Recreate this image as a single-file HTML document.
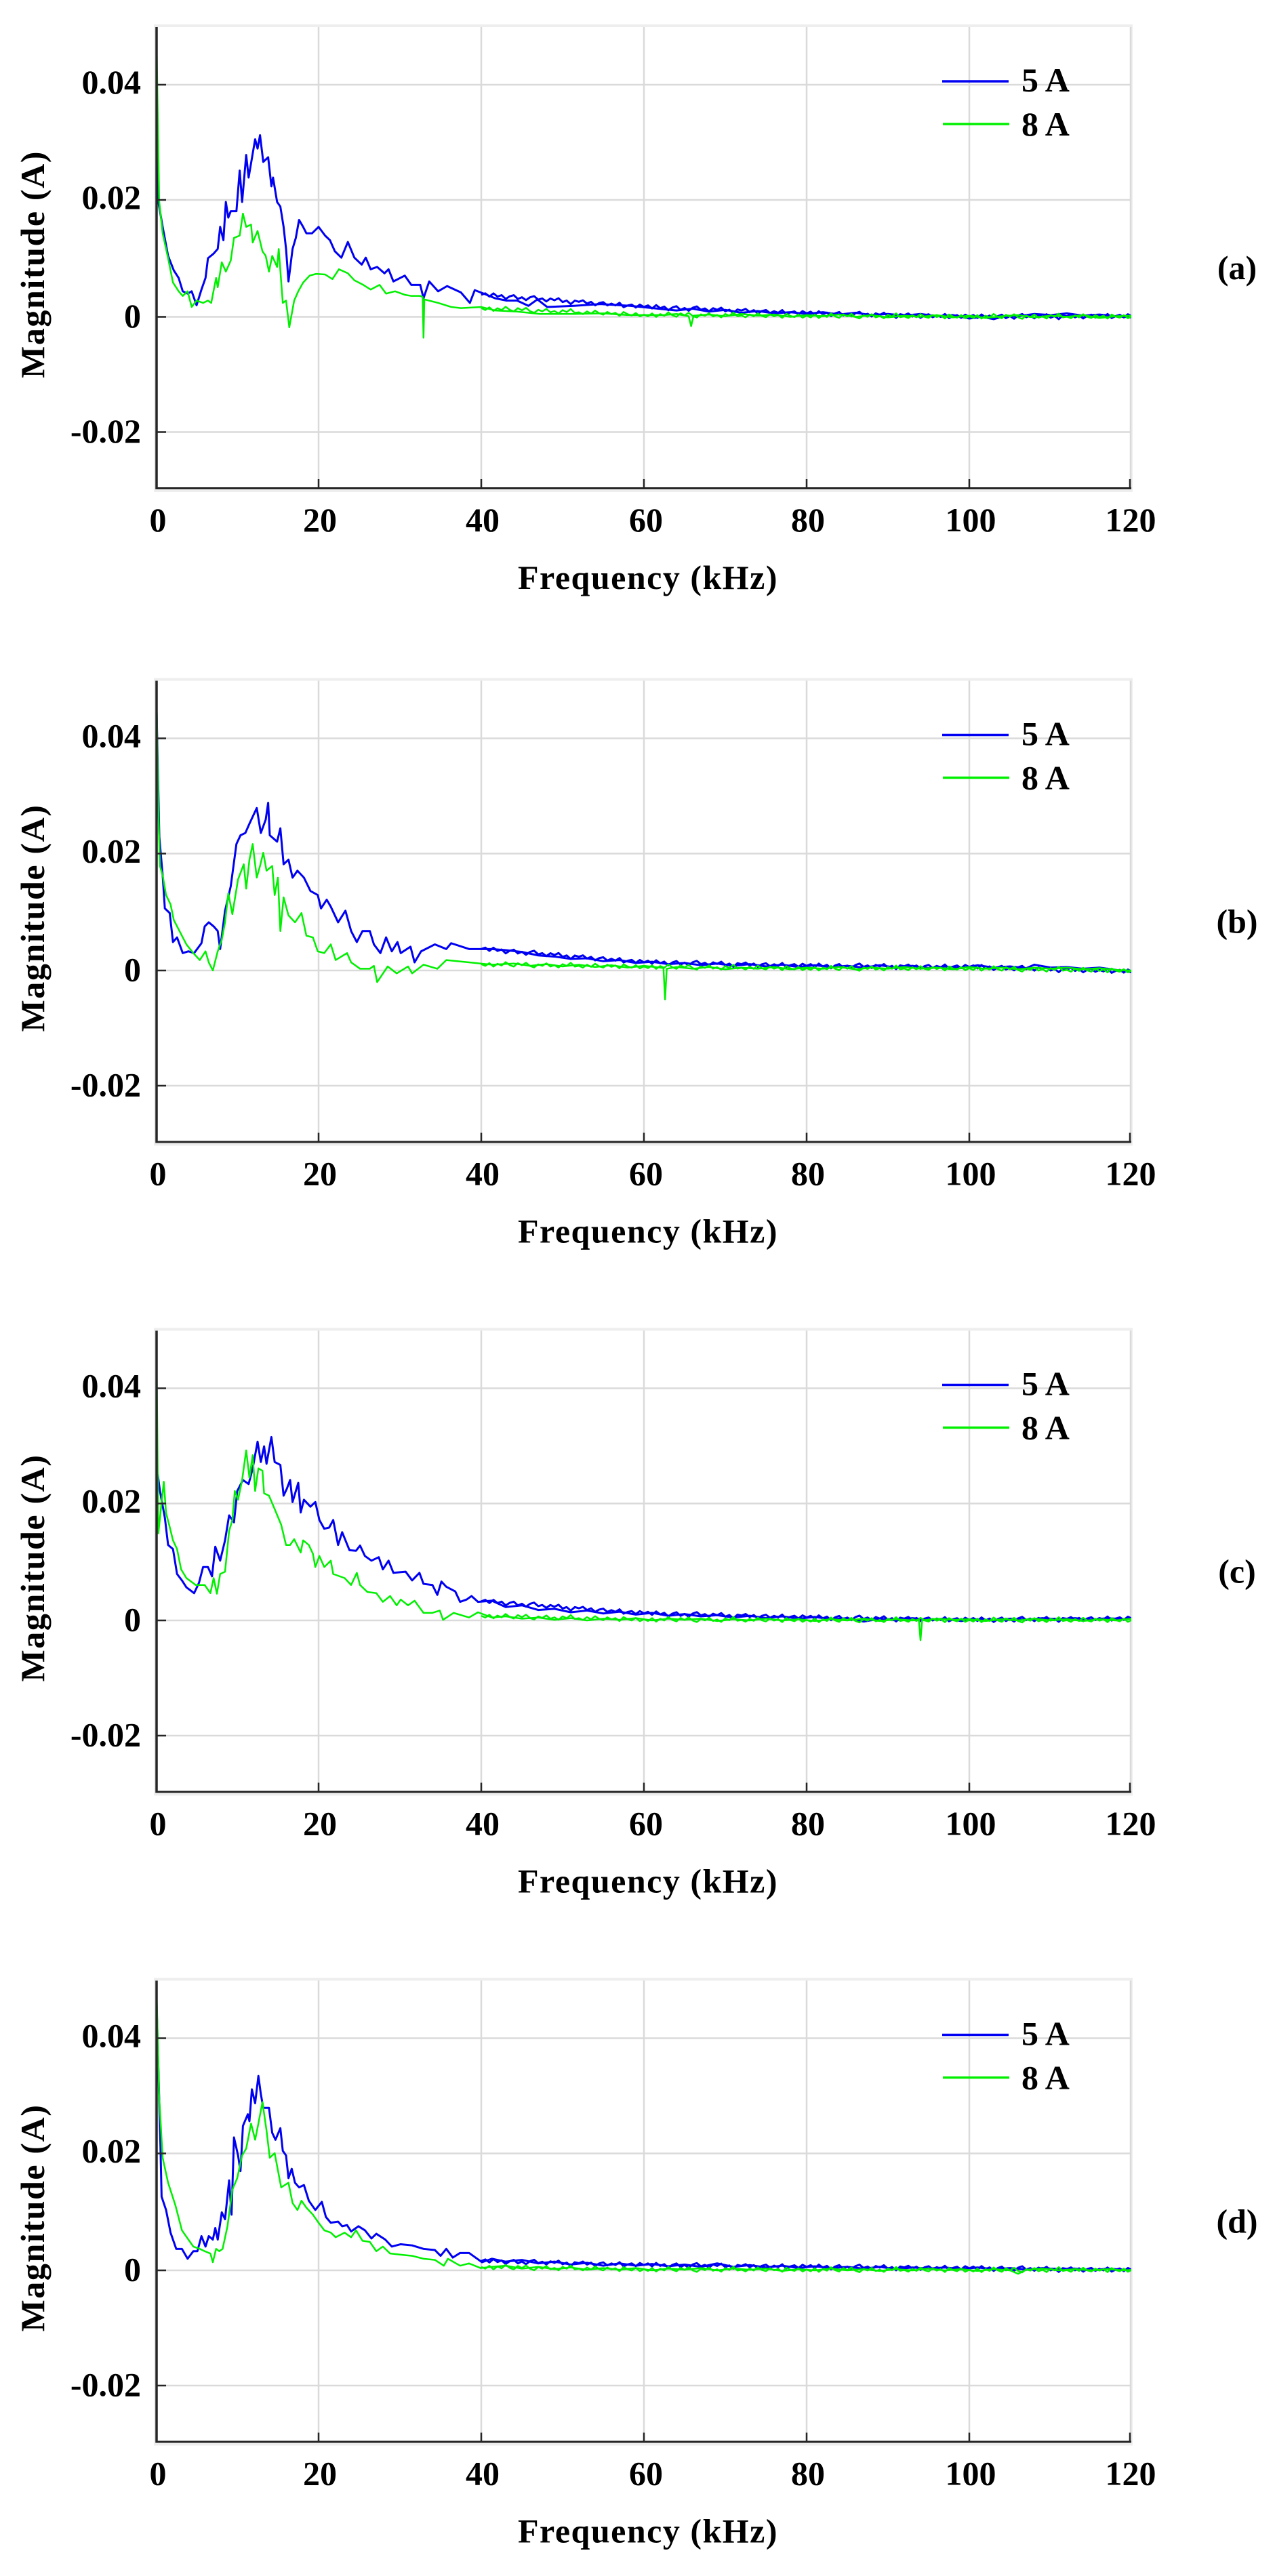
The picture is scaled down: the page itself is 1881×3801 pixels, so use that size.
<!DOCTYPE html>
<html><head><meta charset="utf-8"><style>
html,body{margin:0;padding:0;background:#fff;}
svg{display:block;}
text{font-family:"Liberation Serif","Times New Roman",serif;font-weight:bold;fill:#000;}
.tk{font-size:50px;}
.grid{stroke:#dadada;stroke-width:2.5;fill:none;}
.ax{stroke:#262626;fill:none;}
.b{fill:none;stroke:#0000f2;stroke-width:3;stroke-linejoin:round;}
.g{fill:none;stroke:#00f000;stroke-width:2.5;stroke-linejoin:round;}
</style></head><body>
<svg width="1881" height="3801" viewBox="0 0 1881 3801" xmlns="http://www.w3.org/2000/svg">
<rect width="1881" height="3801" fill="#fff"/>
<defs>
<clipPath id="pc" clipPathUnits="userSpaceOnUse"><rect x="231" y="40" width="1438" height="680"/></clipPath>
<polyline id="nz" vector-effect="non-scaling-stroke" points="0,0 0.5,0.3 1,-0.2 1.5,0.4 2,-0.1 2.5,0.2 3,-0.4 3.5,0.1 4,0.35 4.5,-0.25 5,0.1 5.5,-0.35 6,0.2 6.5,0.45 7,-0.1 7.5,0.15 8,-0.3 8.5,0.25 9,0 9.5,0.4 10,-0.2 10.5,0.1 11,-0.45 11.5,0.2 12,0.05 12.5,0.35 13,-0.15 13.5,0.2 14,-0.35 14.5,0.1 15,0.3 15.5,-0.2 16,0.15 16.5,-0.1 17,0.4 17.5,-0.3 18,0.05 18.5,0.25 19,-0.2 19.5,0.35 20,0"/>
<g id="frame">
<rect x="229" y="38" width="1440" height="686" fill="none" stroke="#eeeeee" stroke-width="4"/>
<g class="grid">
<line x1="470" y1="40" x2="470" y2="721"/><line x1="710" y1="40" x2="710" y2="721"/>
<line x1="950" y1="40" x2="950" y2="721"/><line x1="1190" y1="40" x2="1190" y2="721"/>
<line x1="1430" y1="40" x2="1430" y2="721"/><line x1="1668" y1="40" x2="1668" y2="721"/>
<line x1="231" y1="125" x2="1669" y2="125"/><line x1="231" y1="295" x2="1669" y2="295"/>
<line x1="231" y1="467.5" x2="1669" y2="467.5"/><line x1="231" y1="637.5" x2="1669" y2="637.5"/>
</g>
</g>
<g id="axes">
<g class="ax" stroke-width="2.5">
<line x1="231" y1="125" x2="245" y2="125"/><line x1="231" y1="295" x2="245" y2="295"/>
<line x1="231" y1="467.5" x2="245" y2="467.5"/><line x1="231" y1="637.5" x2="245" y2="637.5"/>
<line x1="470" y1="707" x2="470" y2="721"/><line x1="710" y1="707" x2="710" y2="721"/>
<line x1="950" y1="707" x2="950" y2="721"/><line x1="1190" y1="707" x2="1190" y2="721"/>
<line x1="1430" y1="707" x2="1430" y2="721"/><line x1="1667" y1="707" x2="1667" y2="721"/>
</g>
<line class="ax" x1="231" y1="40" x2="231" y2="722" stroke-width="3.5"/>
<line class="ax" x1="229.5" y1="720.5" x2="1669" y2="720.5" stroke-width="3"/>
<g class="tk" text-anchor="end">
<text x="208" y="138">0.04</text><text x="208" y="308">0.02</text>
<text x="208" y="483">0</text><text x="208" y="653">-0.02</text>
</g>
<g class="tk" text-anchor="middle">
<text x="233" y="784">0</text><text x="472" y="784">20</text><text x="712" y="784">40</text>
<text x="953" y="784">60</text><text x="1192" y="784">80</text><text x="1432" y="784">100</text>
<text x="1668" y="784">120</text>
</g>
<text class="tk" x="764" y="869" letter-spacing="1.5">Frequency (kHz)</text>
<text class="tk" transform="translate(65,390) rotate(-90)" text-anchor="middle" letter-spacing="1.6">Magnitude (A)</text>
<line x1="1390" y1="120" x2="1488" y2="120" stroke="#0000f2" stroke-width="3.5"/>
<line x1="1391" y1="183" x2="1489" y2="183" stroke="#00f000" stroke-width="3.5"/>
<text class="tk" x="1507" y="135">5 A</text>
<text class="tk" x="1507" y="200">8 A</text>
</g>
</defs>

<!-- Panel (a) -->
<g transform="translate(0,0)">
<use href="#frame"/>
<g clip-path="url(#pc)"><g transform="translate(230,467.5) scale(12,-8.5625)">
<polyline class="b" vector-effect="non-scaling-stroke" points="0,50 0.28,20 0.83,15.5 1.5,10.5 2.2,8 2.8,6.7 3.3,4.4 3.9,4 4.4,4.4 5,2 5.6,4.7 6.1,6.7 6.4,10.1 7.1,10.9 7.6,11.7 7.9,15.5 8.3,13.2 8.6,19.8 8.9,17.1 9.2,18.2 9.9,18.2 10.3,25.2 10.6,19.8 11.1,27.9 11.4,24 12.2,30.6 12.5,29 12.8,31.3 13.2,26.7 13.8,27.5 14.2,22.5 14.4,24 14.9,19.8 15.3,19 15.7,15.5 16,11.7 16.3,6.1 16.8,11.7 17.2,13.6 17.6,16.7 18.1,15.5 18.5,14.4 19.2,14.4 20,15.5 20.8,14 21.4,13.2 22,11.3 22.8,10.2 23.6,12.9 24.4,10.2 25.3,9 25.8,10.2 26.4,8.2 27.2,8.6 28.1,7.5 28.6,8.2 29.2,6.1 30.6,7.1 31.4,5.5 32.5,5.5 32.9,3.2 33.6,6.1 34.7,4.4 35.8,5.3 37.5,4.2 38.6,2.4 39.2,4.6 40.3,4 41.7,3.2 43.1,2.8 44.4,2.8 45.8,1.9 46.9,3 48.1,1.7 51.4,1.9 54.7,2.2 58.3,1.9 62.5,1.3 64,1.1 66,1.4 68,0.9 70,1.2 72,0.7 74,1 76,0.6 78,0.8 80,0.5 82,0.8 84,0.4 86,0.7 88,0.3 90,0.5 92,0.2 94,0.5 96,0.1 98,0.3 100,-0.3 101.5,0 103,-0.4 104.5,0.2 106,0.1 108,0.5 110,0.3 112,0.6 114,0.2 116,0.4 118,0.1 120,-0.1"/>
<use class="b" href="#nz" transform="matrix(1,-0.105,0,1,40,3.8)"/>
<use class="b" href="#nz" transform="matrix(1,-0.055,0,1,60,1.7)"/>
<use class="b" href="#nz" transform="matrix(1,-0.03,0,1,80,0.6)"/>
<use class="b" href="#nz" transform="matrix(1,0.005,0,1,100,0)"/>
<polyline class="g" vector-effect="non-scaling-stroke" points="0.05,50 0.4,20 0.83,14.4 1.5,10.1 2.1,5.9 2.8,4.4 3.3,3.6 3.9,4.4 4.4,1.7 5,2.8 5.8,2.4 6.4,2.8 6.8,2.4 7.4,6.7 7.6,5.1 8.1,9.4 8.6,7.8 9.2,9.7 9.6,13.6 10.3,14 10.7,17.8 11.1,15.5 11.7,15.9 11.9,12.8 12.5,14.8 13.1,11.3 13.5,10.5 13.9,7.8 14.3,10.5 14.9,8.6 15.1,11.7 15.6,2.4 16,2.8 16.4,-1.8 17,2.8 17.5,4.4 18.1,5.9 18.9,7.1 19.7,7.4 20.8,7.3 21.7,6.5 22.5,8.2 23.6,7.5 24.4,6.3 25.5,5.5 26.4,4.7 27.5,5.5 28.3,4 29.4,4.4 30.6,3.8 31.4,3.6 32.5,3.6 32.8,3.4 32.9,-3.6 33,3 34.7,2.4 36.3,1.7 37.5,1.5 40,1.7 41.7,1.1 44.4,0.9 47.2,0.5 51.4,0.5 55,0.6 58,0.3 62.5,0.3 64,0.5 65.5,0.1 65.8,-1.6 66.1,0.2 68,0.4 70,0.1 72,0.5 74,0.2 76,0.4 78,0 80,0.3 82,0.1 84,0.4 86,0 88,0.3 90,-0.1 92,0.2 94,0 96,0.3 98,-0.1 100,0.2 102,-0.2 104,0.1 106,0.3 108,-0.1 110,0.2 112,0 114,0.3 116,-0.2 118,0.1 120,0.2"/>
<use class="g" href="#nz" transform="matrix(1,-0.055,0,-1,40,1.5)"/>
<use class="g" href="#nz" transform="matrix(1,-0.01,0,-1,60,0.4)"/>
<use class="g" href="#nz" transform="matrix(1,-0.005,0,-1,80,0.2)"/>
<use class="g" href="#nz" transform="matrix(1,0,0,-1,100,0.1)"/>
</g></g>
<use href="#axes"/>
<text class="tk" x="1825" y="412" text-anchor="middle">(a)</text>
</g>

<!-- Panel (b) -->
<g transform="translate(0,964.5)">
<use href="#frame"/>
<g clip-path="url(#pc)"><g transform="translate(230,467.5) scale(12,-8.5625)">
<polyline class="b" vector-effect="non-scaling-stroke" points="0,50 0.42,23 0.83,16.4 1.1,10.7 1.7,9.9 2.1,4.9 2.6,5.7 3.3,3 4,3.3 4.7,3 5.6,4.7 6,7.6 6.5,8.3 7.1,7.6 7.6,6.8 7.9,3.7 8.5,10.3 9.2,14.5 9.9,21.8 10.4,23.3 11,23.7 11.5,25.3 12.4,28 12.9,23.7 13.5,26 13.8,28.9 14,23.3 14.9,22.2 15.3,24.5 15.7,18.3 16.3,19.1 16.8,16 17.4,17.2 18.2,16 19,13.7 19.9,13 20.3,10.7 21,12.2 21.5,11 22.4,8.3 23.3,10.3 24,6.8 24.7,4.9 25.4,6.8 26.3,6.8 26.8,4.5 27.6,3 28.3,5.7 29,3.3 29.7,4.9 30.1,3 31.3,4.1 31.8,1.4 32.6,3.3 34.3,4.5 35.7,3.7 36.3,4.7 38.5,3.7 41.3,3.7 43,3.5 45,3.2 47,2.6 49,2.4 51,2 53,2.1 55,1.6 57,1.8 59,1.3 61,1.5 63,1.1 65,1.3 67,0.9 69,1.2 71,0.8 73,1.1 75,0.7 77,1 79,0.6 81,0.9 83,0.6 85,0.8 87,0.5 89,0.9 91,0.5 93,0.8 95,0.4 97,0.7 99,0.4 101,0.9 103,0.5 105,0.7 107,0.4 108,1 110,0.5 112,0.6 114,0.3 116,0.5 118,0.1 120,-0.3"/>
<use class="b" href="#nz" transform="matrix(1,-0.115,0,1,40,3.7)"/>
<use class="b" href="#nz" transform="matrix(1,-0.03,0,1,60,1.4)"/>
<use class="b" href="#nz" transform="matrix(1,-0.01,0,1,80,0.8)"/>
<use class="b" href="#nz" transform="matrix(1,-0.04,0,1,100,0.6)"/>
<polyline class="g" vector-effect="non-scaling-stroke" points="0.05,50 0.28,28.7 0.5,18 0.83,16.4 1.25,13 1.8,11.4 2.2,8.7 2.9,6.8 3.75,4.5 4.6,3 5.4,1.8 6.1,3.3 6.5,1.4 7,0 7.6,3.3 8.1,5.3 8.5,8.3 8.9,13.3 9.4,9.7 10.1,15.7 10.8,18.3 11.1,14.1 11.5,19.1 11.9,21.8 12.4,16 12.8,18 13.2,20.3 13.6,17.2 14.3,18 14.6,13 15,16 15.3,6.8 15.7,12.6 16.3,9.5 17.1,8.3 17.9,9.9 18.5,6 19.3,5.7 19.9,3.3 20.7,3 21.5,4.5 22.1,1.8 23.5,3 24,1.4 25.1,0.3 26.3,0.3 26.8,0.8 27.2,-2 28.5,0.7 29.6,-0.5 31,0.7 31.5,-0.5 32.9,1 34.6,0.3 35.7,1.8 38.5,1.4 41.3,1 44,1.2 46,0.8 48,1.1 50,0.7 52,1 54,0.6 56,0.9 58,0.5 60,0.8 62,0.5 62.4,0.4 62.6,-5 62.8,0.3 64,0.6 66,0.3 68,0.6 70,0.2 72,0.5 74,0.3 76,0.6 78,0.2 80,0.5 82,0.3 84,0.6 86,0.2 88,0.5 90,0.3 92,0.6 94,0.3 96,0.5 98,0.2 100,0.6 102,0.3 104,0.5 106,0.2 108,0.5 110,0.3 112,0.5 114,0.2 116,0.4 118,0.1 120,0"/>
<use class="g" href="#nz" transform="matrix(1,-0.02,0,-1,40,1.1)"/>
<use class="g" href="#nz" transform="matrix(1,-0.015,0,-1,60,0.7)"/>
<use class="g" href="#nz" transform="matrix(1,0,0,-1,80,0.4)"/>
<use class="g" href="#nz" transform="matrix(1,-0.02,0,-1,100,0.4)"/>
</g></g>
<use href="#axes"/>
<text class="tk" x="1825" y="412" text-anchor="middle">(b)</text>
</g>

<!-- Panel (c) -->
<g transform="translate(0,1923.5)">
<use href="#frame"/>
<g clip-path="url(#pc)"><g transform="translate(230,467.5) scale(12,-8.5625)">
<polyline class="b" vector-effect="non-scaling-stroke" points="0,50 0.14,26 0.5,22.3 1.1,17.7 1.5,13 2.1,12.3 2.6,8 3.2,6.9 3.75,5.7 4.7,4.7 5.3,6.5 5.8,9.2 6.4,9.2 6.9,7.6 7.3,12.7 7.9,10.3 8.5,13.8 9,18.1 9.6,16.9 10,22.3 10.7,24.2 11.4,23.5 11.9,26.2 12.5,30.8 12.9,27.3 13.3,30 13.6,27 14.2,31.6 14.6,27.3 15.3,26.8 15.7,21.5 16.1,22.7 16.5,24.2 16.8,20.4 17.5,23.7 17.8,18.6 18.2,20.8 19,19.6 19.6,20.4 20.1,17.3 20.7,15.8 21.3,16 21.8,17.3 22.4,13 22.9,15.2 23.8,12.1 24.6,12 25.1,12.9 25.7,11.1 26.5,10.3 27.4,10.9 27.9,8.8 28.6,10.3 29.2,8.2 30.7,8.4 31.5,6.9 32.4,8.2 32.9,6.3 34,6.1 34.6,4.4 35.1,6.7 35.7,5.8 36.8,5 37.4,3.2 38.2,3.6 38.8,4.2 39.6,3.2 41.3,3.4 43,2.3 45,2.6 47,1.8 49,2 51,1.4 53,1.7 55,1.2 57,1.5 59,1 61,1.3 63,0.8 65,1.1 67,0.7 69,0.9 71,0.5 73,0.8 75,0.4 77,0.7 79,0.3 81,0.6 83,0.2 85,0.4 87,-0.2 89,0.3 91,0 93,0.4 95,0.1 97,0.3 99,-0.1 101,0.2 103,0 105,0.3 107,0.1 109,0.4 111,0.2 113,0.4 115,0.1 117,0.4 119,0.2 120,0.4"/>
<use class="b" href="#nz" transform="matrix(1,-0.105,0,1,40,3.3)"/>
<use class="b" href="#nz" transform="matrix(1,-0.035,0,1,60,1.2)"/>
<use class="b" href="#nz" transform="matrix(1,-0.02,0,1,80,0.5)"/>
<use class="b" href="#nz" transform="matrix(1,0.01,0,1,100,0.1)"/>
<polyline class="g" vector-effect="non-scaling-stroke" points="0.05,50 0.3,15 0.97,23.9 1.25,18.5 1.7,16.1 2.1,13.8 2.6,12.3 3.1,8.8 3.75,7.3 4.9,6.1 6,6.1 6.7,4.7 7.1,7.3 7.5,4.6 7.9,8 8.5,8.4 9,15.4 9.4,17.3 9.7,22.3 10.1,20.8 10.6,24.2 11.1,29.3 11.5,24.6 11.9,28.5 12.2,22.3 12.6,26.2 13.1,25.8 13.3,21.9 13.9,21.5 14.6,19.2 15.4,16.5 16,13 16.5,13 17,14 17.8,11.7 18.1,13.8 18.8,13 19.3,11.5 19.6,9.2 20.1,11.1 20.7,9.2 21.5,10.3 21.8,8 23.2,7.3 24,6.1 24.7,8.2 25.1,6.1 26,4.9 27.1,4.7 27.9,3.2 28.8,4.2 29.6,2.6 30.1,3.6 31,2.6 31.8,3.4 32.9,1.3 34,1.3 34.9,1.7 35.3,0.1 36.6,1.3 38.5,0.5 39.6,1.4 41.3,0.5 43,0.7 45,0.3 47,0.5 49,0.1 51,0.4 53,0 55,0.3 57,0.1 59,0.4 61,0 63,0.3 65,0.1 67,0.3 69,-0.1 71,0.2 73,0 75,0.3 77,0 79,0.2 81,-0.1 83,0.2 85,0 87,0.3 89,-0.1 91,0.2 93,0 93.8,0.1 94,-3.4 94.2,0 96,0.3 98,0.1 100,0.2 102,-0.1 104,0.2 106,0 108,0.3 110,0 112,0.2 114,-0.1 116,0.2 118,0 120,0.3"/>
<use class="g" href="#nz" transform="matrix(1,-0.03,0,-1,40,0.8)"/>
<use class="g" href="#nz" transform="matrix(1,-0.005,0,-1,60,0.2)"/>
<use class="g" href="#nz" transform="matrix(1,0,0,-1,80,0.1)"/>
<use class="g" href="#nz" transform="matrix(1,0,0,-1,100,0.1)"/>
</g></g>
<use href="#axes"/>
<text class="tk" x="1825" y="412" text-anchor="middle">(c)</text>
</g>

<!-- Panel (d) -->
<g transform="translate(0,2882.5)">
<use href="#frame"/>
<g clip-path="url(#pc)"><g transform="translate(230,467.5) scale(12,-8.5625)">
<polyline class="b" vector-effect="non-scaling-stroke" points="0,50 0.3,35 0.56,21.4 0.7,12.7 1.25,10.4 1.8,6.5 2.5,3.7 3.2,3.7 3.9,2 4.6,3.3 5.1,3.3 5.6,5.9 6.1,4.1 6.5,5.9 7,5.3 7.3,7.3 7.6,5.3 8.1,10 8.5,8.8 9,15.5 9.3,9.6 9.6,22.9 10.1,19.8 10.4,17.1 10.7,24.9 11.3,26.9 11.5,25.7 11.8,31.2 12.2,28.8 12.6,33.5 12.9,30.4 13.2,28 13.9,28 14.3,23.7 14.7,22.5 15.3,24.5 15.6,20.6 16,19.8 16.3,15.9 16.7,17.5 17.1,15.1 17.6,14.3 18.2,14.7 18.8,12 19.6,10.4 20.4,11.8 20.9,9.2 21.5,8.2 22.4,8.4 22.9,7.6 23.5,7.8 24,6.7 24.9,7.6 25.7,6.9 26.5,5.5 27.1,6.3 28.2,5.3 29,4.1 30.1,4.5 31.5,4.3 32.9,3.7 34.3,3.5 35,2.5 35.7,3.7 36.5,2.2 37.4,3 38.5,3 39.3,2.2 40.1,1.4 41.3,2 43,1.5 45,1.8 47,1.2 49,1.5 51,1 53,1.3 55,0.8 57,1.2 59,0.8 61,1.1 63,0.7 65,1 67,0.6 69,1.2 71,0.6 73,0.9 75,0.5 77,0.8 79,0.4 81,0.7 83,0.4 85,0.6 87,0.3 89,0.6 91,0.2 93,0.5 95,0.3 97,0.5 99,0.2 101,0.5 103,0.2 105,0.4 107,0.1 109,0.4 111,0.2 113,0.3 115,0 117,0.3 119,0.1 120,0"/>
<use class="b" href="#nz" transform="matrix(1,-0.035,0,1,40,1.6)"/>
<use class="b" href="#nz" transform="matrix(1,-0.015,0,1,60,0.9)"/>
<use class="b" href="#nz" transform="matrix(1,-0.0125,0,1,80,0.6)"/>
<use class="b" href="#nz" transform="matrix(1,-0.015,0,1,100,0.35)"/>
<polyline class="g" vector-effect="non-scaling-stroke" points="0.05,50 0.4,30 0.83,19.4 1.5,15.1 2.4,11.2 3.2,6.9 3.9,5.5 4.6,4.1 5.4,3.7 6,3.3 6.7,2.9 7,1.4 7.4,3.7 7.8,3.3 8.2,3.7 8.8,7.6 9.4,13.9 10,15.9 10.6,19.8 11.1,21 11.7,25.3 12.2,22.5 12.6,25.3 13.1,29 13.6,24.1 14,19.4 14.6,20.2 15.4,14.3 16.3,15.1 16.8,11.6 17.4,10.4 17.9,12 18.5,10.8 19.3,9.6 19.9,8.4 20.7,6.9 21.5,6.5 22.1,5.7 23.2,6.5 24,5.7 24.6,6.9 25.4,5.1 26.3,4.9 27.1,3.3 27.9,4.1 28.8,2.9 30.1,2.7 31.5,2.5 32.9,2 34.3,1.8 35.4,0.8 35.9,2 37.4,0.8 38.5,1.2 39.9,0.4 41.3,0.6 43,0.8 45,0.3 47,0.6 49,0.2 51,0.5 53,0.1 55,0.4 57,0.1 59,0.4 61,0 63,0.3 65,0.1 67,0.4 69,0 71,0.3 73,0.1 75,0.3 77,-0.1 79,0.2 81,0 83,0.3 85,0 87,0.2 89,-0.1 91,0.2 93,0 95,0.3 97,0 99,0.2 101,-0.1 103,0.2 105,0 106,-0.6 107,0.1 109,0.3 111,0 113,0.2 115,0 117,0.2 119,0 120,0.1"/>
<use class="g" href="#nz" transform="matrix(1,-0.02,0,-1,40,0.6)"/>
<use class="g" href="#nz" transform="matrix(1,-0.0025,0,-1,60,0.2)"/>
<use class="g" href="#nz" transform="matrix(1,-0.0025,0,-1,80,0.15)"/>
<use class="g" href="#nz" transform="matrix(1,0,0,-1,100,0.1)"/>
</g></g>
<use href="#axes"/>
<text class="tk" x="1825" y="412" text-anchor="middle">(d)</text>
</g>
</svg>
</body></html>
